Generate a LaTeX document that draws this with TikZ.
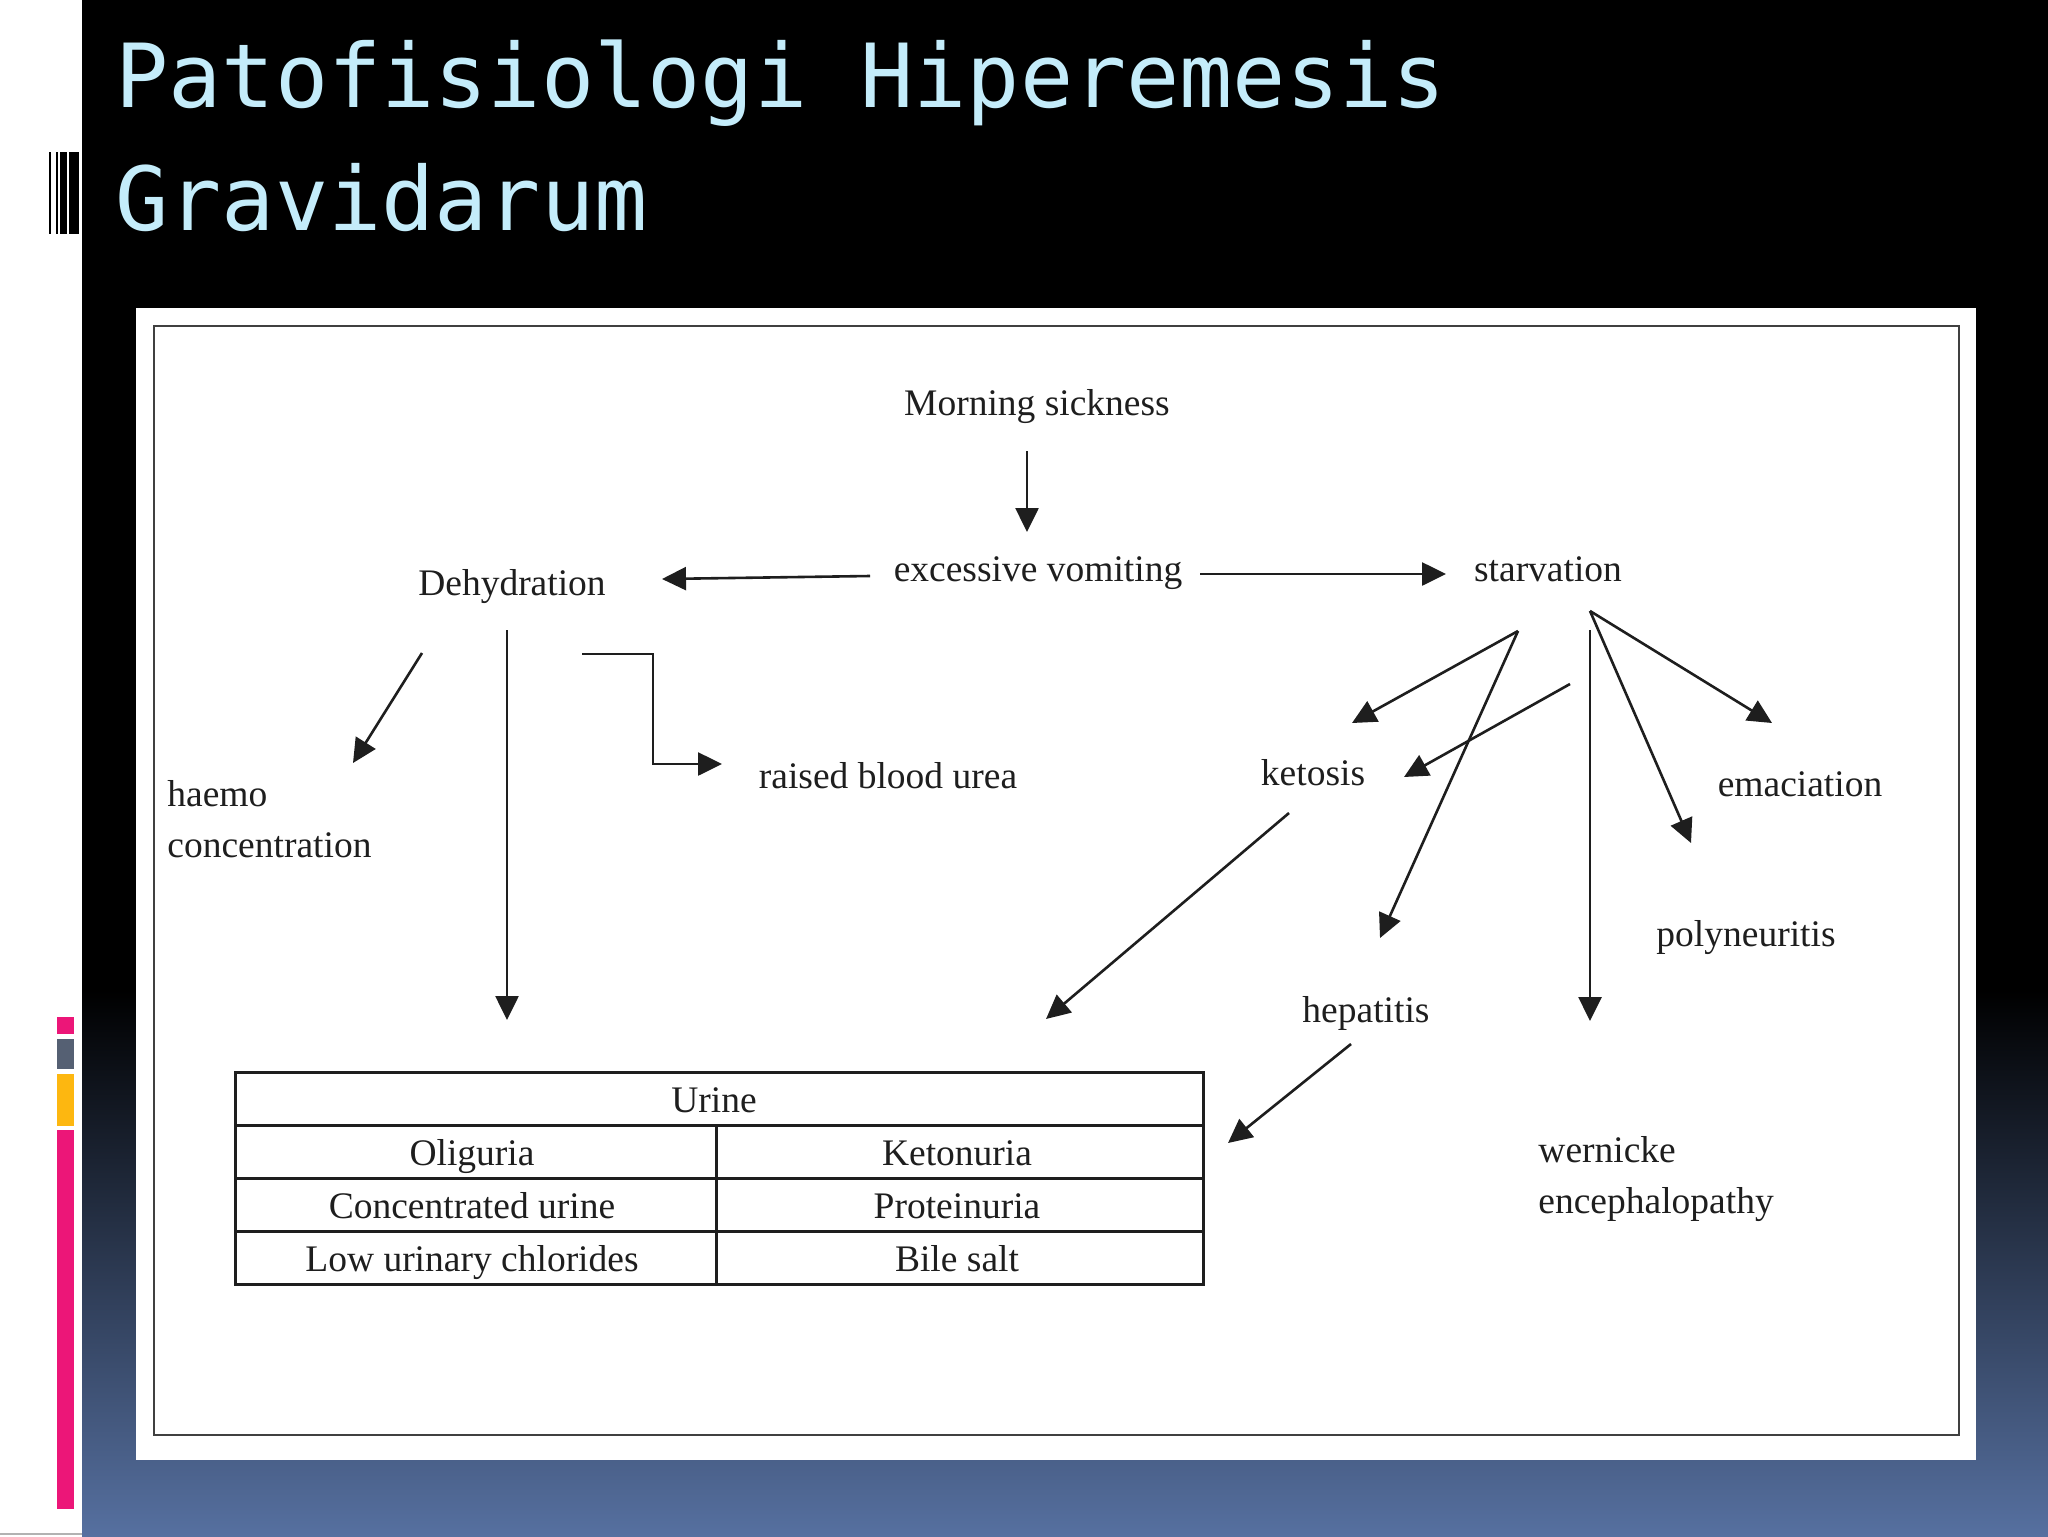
\documentclass[tikz,border=0pt]{standalone}
\usepackage{fontspec}
\setmainfont{Liberation Serif}
\newfontfamily\titlefont{DejaVu Sans Mono}
\usetikzlibrary{arrows.meta}
\definecolor{titlecyan}{RGB}{196,236,250}
\definecolor{slatebot}{RGB}{86,112,160}
\definecolor{barpink}{RGB}{236,22,120}
\definecolor{bargray}{RGB}{85,96,115}
\definecolor{barorange}{RGB}{253,183,16}
\definecolor{ink}{RGB}{30,30,30}
\tikzset{
  lbl/.style={font=\fontsize{18.75}{25.5}\selectfont, text=ink, inner sep=0pt, anchor=base},
  mlbl/.style={font=\fontsize{18.75}{25.5}\selectfont, text=ink, inner sep=0pt, anchor=west, align=left},
  cell/.style={font=\fontsize{18.75}{25.5}\selectfont, text=ink, inner sep=0pt, anchor=base},
  arr/.style={draw=ink, line width=1.3pt, -{Triangle[length=12pt,width=11.5pt]}},
  ln/.style={draw=ink, line width=1.3pt},
  tline/.style={draw=ink, line width=1.5pt},
  ttl/.style={font=\titlefont\fontsize{44.2}{50}\selectfont, text=titlecyan, inner sep=0pt, anchor=base west}
}
\begin{document}
\begin{tikzpicture}[x=0.5pt,y=-0.5pt]
\useasboundingbox (0,0) rectangle (2048,1536);
% background
\fill[white] (0,0) rectangle (2048,1536);
\fill[black] (82,0) rectangle (2048,991);
\shade[top color=black, bottom color=slatebot] (82,990) rectangle (2048,1536);
\draw[gray!60, line width=0.6pt] (0,1534) -- (82,1534);
% left bars
\fill[barpink] (57,1017) rectangle (74,1034);
\fill[bargray] (57,1039) rectangle (74,1069);
\fill[barorange] (57,1074) rectangle (74,1126);
\fill[barpink] (57,1130) rectangle (74,1509);
% barcode decoration
\fill[black] (49,152) rectangle (51,234);
\fill[black] (56.3,152) rectangle (58.3,234);
\fill[black] (60.3,152) rectangle (67.3,234);
\fill[black] (69.3,152) rectangle (79.3,234);
% title
\node[ttl] (t1) at (115,107) {Patofisiologi Hiperemesis};
\node[ttl] (t2) at (115,230) {Gravidarum};
% white panel
\fill[white] (136,308) rectangle (1976,1460);
\draw[draw=ink!85, line width=1.2pt] (154,326) rectangle (1959,1435);
% labels
\node[lbl] (ms) at (1037,415) {Morning sickness};
\node[lbl] (vom) at (1038,581) {excessive vomiting};
\node[lbl] (dehy) at (512,595) {Dehydration};
\node[lbl] (starv) at (1548,581) {starvation};
\node[mlbl] (haemo) at (167,819) {haemo\\concentration};
\node[lbl] (rbu) at (888,788) {raised blood urea};
\node[lbl] (ket) at (1313,785) {ketosis};
\node[lbl] (ema) at (1800,796) {emaciation};
\node[lbl] (poly) at (1746,946) {polyneuritis};
\node[lbl] (hep) at (1366,1022) {hepatitis};
\node[mlbl] (wern) at (1538,1179) {wernicke\\encephalopathy};
% table
\draw[tline] (235,1072) rectangle (1203,1284);
\draw[tline] (235,1125) -- (1203,1125);
\draw[tline] (235,1178) -- (1203,1178);
\draw[tline] (235,1231) -- (1203,1231);
\draw[tline] (716,1125) -- (716,1284);
\node[cell] (urine) at (714,1112) {Urine};
\node[cell] (c11) at (472,1165) {Oliguria};
\node[cell] (c12) at (957,1165) {Ketonuria};
\node[cell] (c21) at (472,1218) {Concentrated urine};
\node[cell] (c22) at (957,1218) {Proteinuria};
\node[cell] (c31) at (472,1271) {Low urinary chlorides};
\node[cell] (c32) at (957,1271) {Bile salt};
% connector end points
\coordinate (ms-o) at (1027,451);
\coordinate (vom-i) at (1027,532);
\coordinate (vom-l) at (870,576);
\coordinate (dehy-r) at (662,579);
\coordinate (vom-r) at (1200,574);
\coordinate (starv-l) at (1446,574);
\coordinate (dehy-sw) at (422,653);
\coordinate (haemo-i) at (353,763);
\coordinate (dehy-s) at (507,630);
\coordinate (tab-a) at (507,1020);
\coordinate (dehy-se) at (582,654);
\coordinate (bend1) at (653,654);
\coordinate (bend2) at (653,764);
\coordinate (rbu-i) at (722,764);
\coordinate (starv-a) at (1518,631);
\coordinate (ket-t) at (1352,723);
\coordinate (hep-t) at (1380,938);
\coordinate (starv-b) at (1570,684);
\coordinate (ket-r) at (1404,777);
\coordinate (starv-c) at (1590,630);
\coordinate (wern-t) at (1590,1021);
\coordinate (starv-d) at (1590,611);
\coordinate (poly-t) at (1691,843);
\coordinate (ema-t) at (1772,723);
\coordinate (ket-o) at (1289,813);
\coordinate (tab-b) at (1046,1019);
\coordinate (hep-o) at (1351,1044);
\coordinate (tab-c) at (1228,1143);
% connectors
\draw[arr] (ms-o) -- (vom-i);
\draw[arr] (vom-l) -- (dehy-r);
\draw[arr] (vom-r) -- (starv-l);
\draw[arr] (dehy-sw) -- (haemo-i);
\draw[arr] (dehy-s) -- (tab-a);
\draw[arr] (dehy-se) -- (bend1) -- (bend2) -- (rbu-i);
\draw[arr] (starv-a) -- (ket-t);
\draw[arr] (starv-a) -- (hep-t);
\draw[arr] (starv-b) -- (ket-r);
\draw[arr] (starv-c) -- (wern-t);
\draw[arr] (starv-d) -- (poly-t);
\draw[arr] (starv-d) -- (ema-t);
\draw[arr] (ket-o) -- (tab-b);
\draw[arr] (hep-o) -- (tab-c);
\end{tikzpicture}
\end{document}
